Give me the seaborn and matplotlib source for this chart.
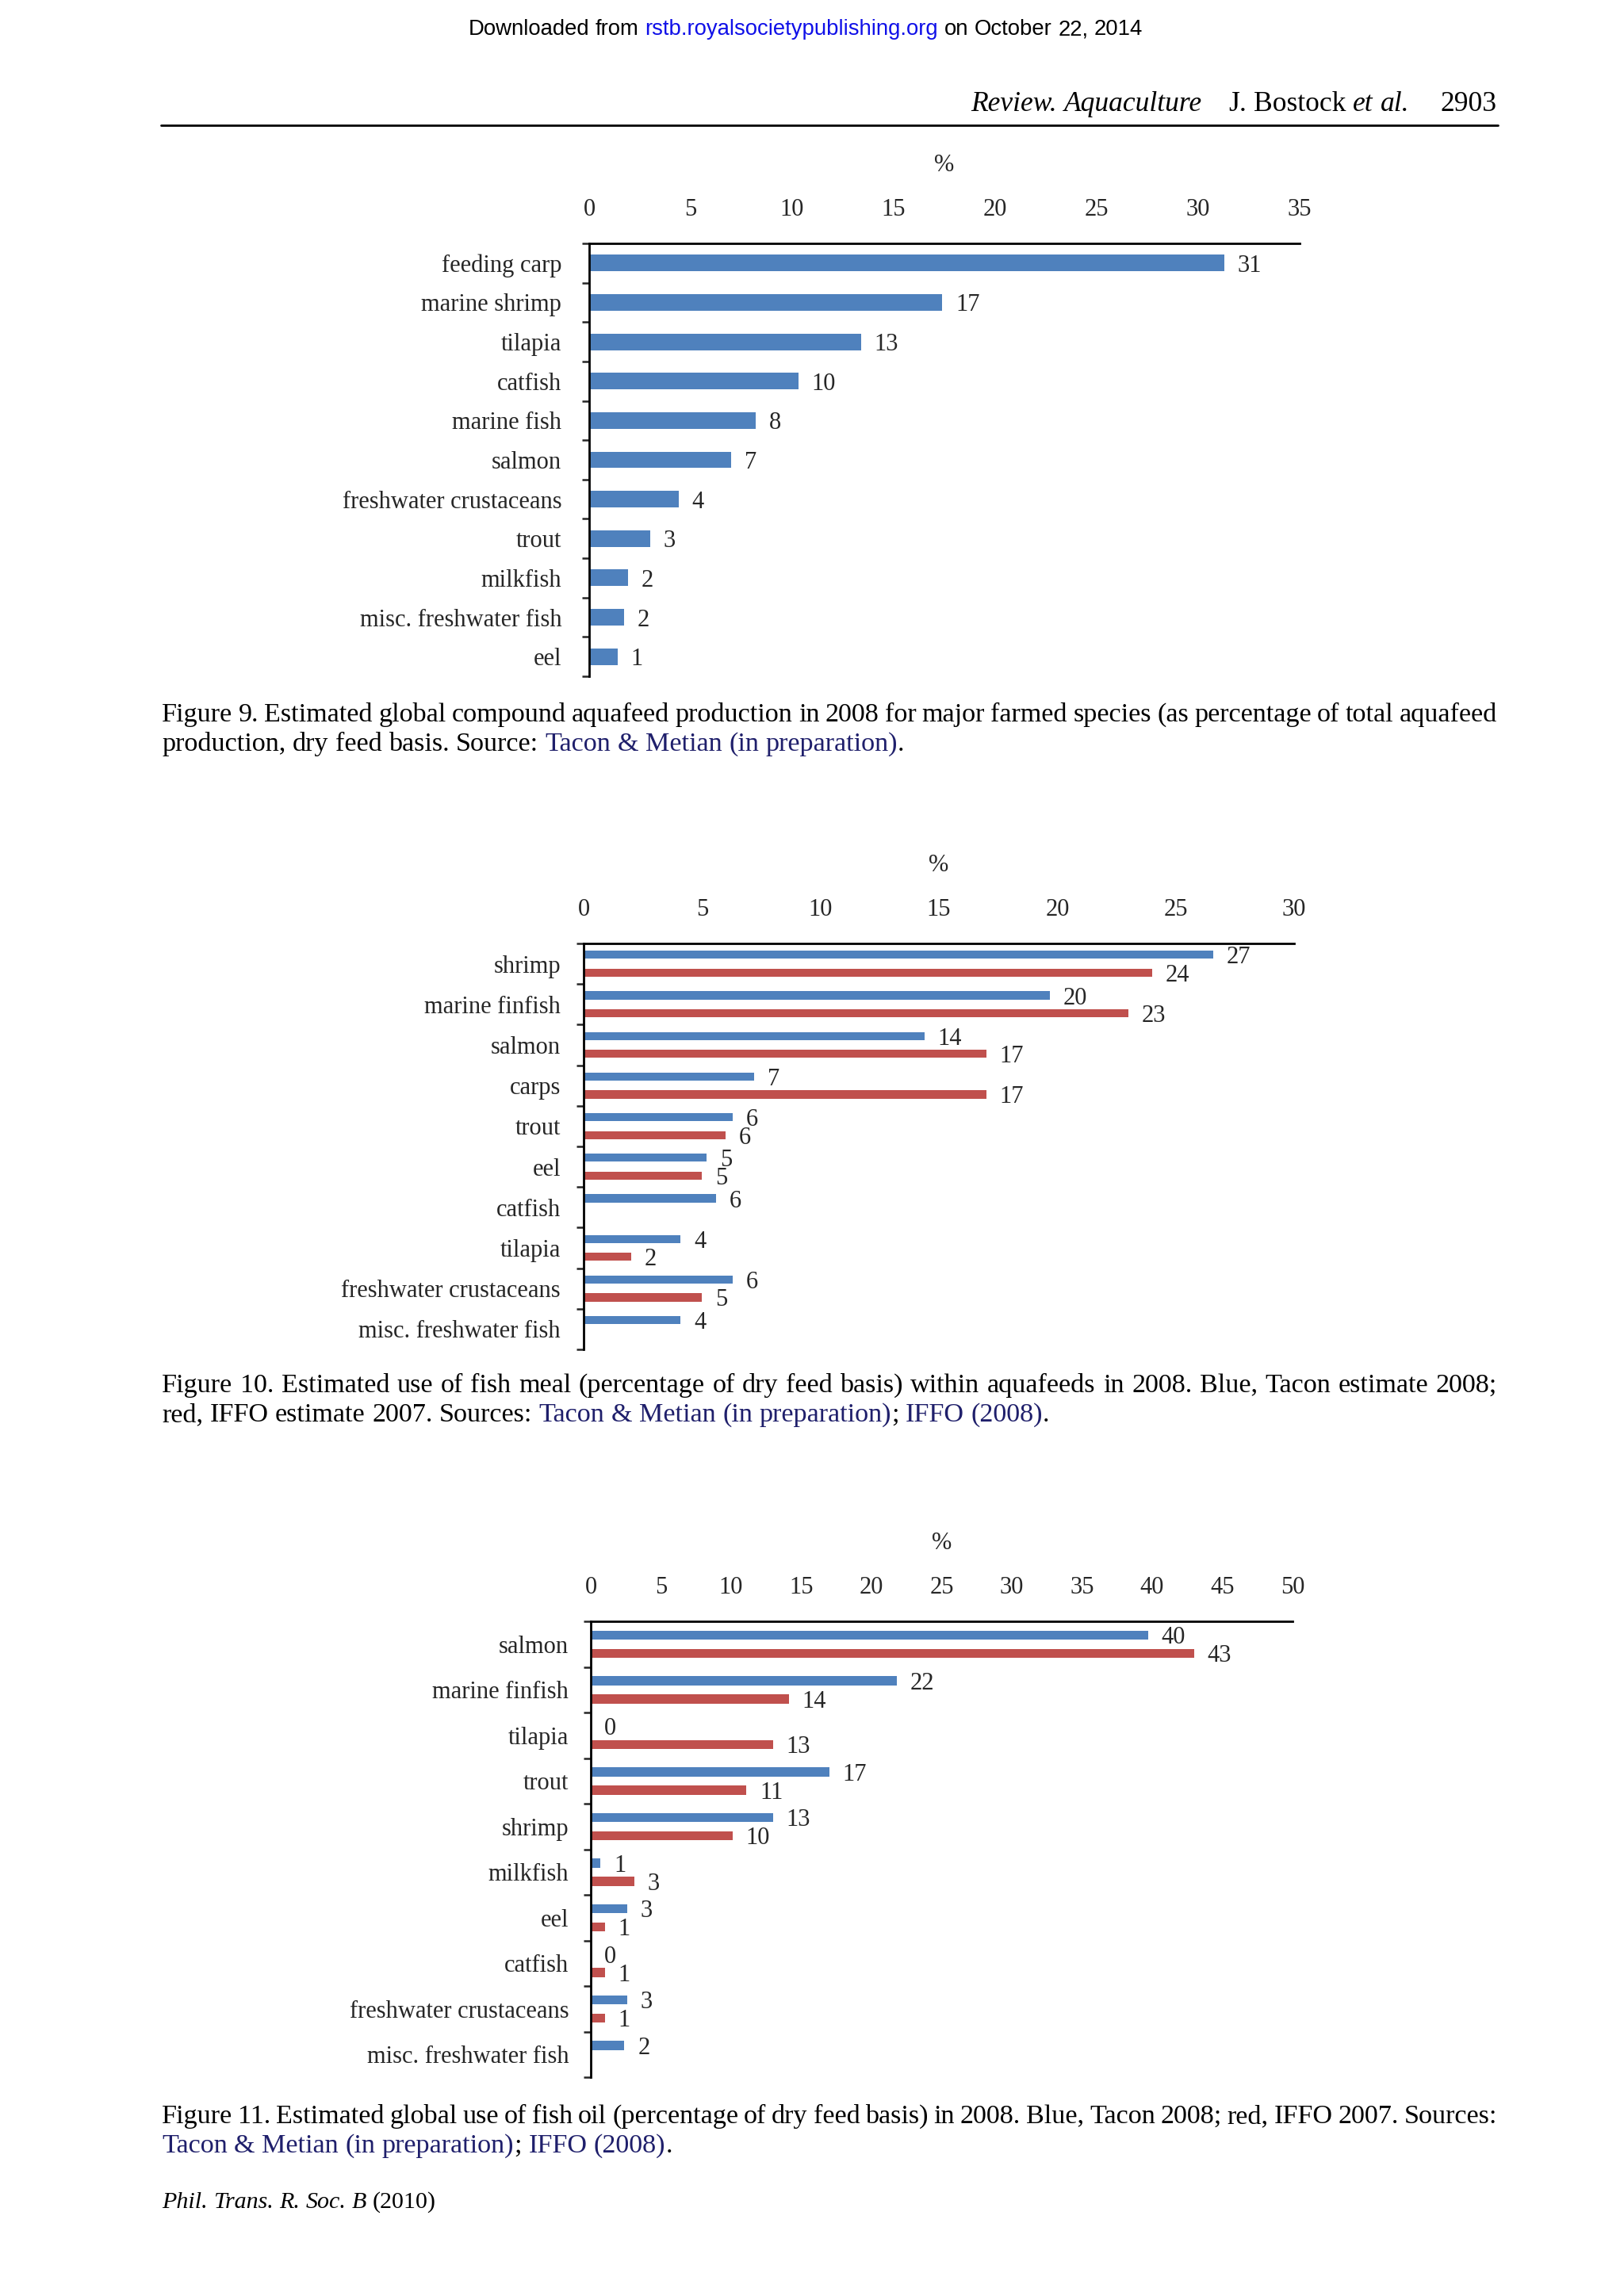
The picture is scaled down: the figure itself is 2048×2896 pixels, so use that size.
import numpy as np
import pandas as pd
import matplotlib
matplotlib.use("Agg")
import matplotlib.pyplot as plt
import seaborn as sns

# --- data (percent) ---
species_feed = ['feeding carp', 'marine shrimp', 'tilapia', 'catfish', 'marine fish', 'salmon',
                'freshwater crustaceans', 'trout', 'milkfish', 'misc. freshwater fish', 'eel']
feed_share = [31.3, 17.4, 13.4, 10.3, 8.2, 7.0, 4.4, 3.0, 1.9, 1.7, 1.4]

species_meal = ['shrimp', 'marine finfish', 'salmon', 'carps', 'trout', 'eel', 'catfish',
                'tilapia', 'freshwater crustaceans', 'misc. freshwater fish']
meal_tacon = [26.6, 19.7, 14.4, 7.2, 6.3, 5.2, 5.6, 4.1, 6.3, 4.1]
meal_iffo = [24.0, 23.0, 17.0, 17.0, 6.0, 5.0, np.nan, 2.0, 5.0, np.nan]

species_oil = ['salmon', 'marine finfish', 'tilapia', 'trout', 'shrimp', 'milkfish', 'eel',
               'catfish', 'freshwater crustaceans', 'misc. freshwater fish']
oil_tacon = [39.7, 21.8, 0.0, 17.0, 13.0, 0.7, 2.6, 0.0, 2.6, 2.4]
oil_iffo = [43.0, 14.1, 13.0, 11.1, 10.1, 3.1, 1.0, 1.0, 1.0, np.nan]

sources = ['Tacon 2008', 'IFFO 2007']

BLUE = '#4F81BD'
RED = '#C0504D'
NAVY = '#1f1f6b'
LINK = '#1010e8'

sns.set_style('white')
plt.rcParams['font.family'] = ['Liberation Serif', 'DejaVu Serif']

W, H, DPI = 2048, 2896, 200
fig = plt.figure(figsize=(W / DPI, H / DPI), dpi=DPI)
fig.patch.set_facecolor('white')


def px_axes(left, top, right, bottom):
    return fig.add_axes([left / W, 1 - bottom / H, (right - left) / W, (bottom - top) / H])


def long_frame(species, tacon, iffo):
    df = pd.DataFrame({'species': species * 2,
                       'source': [sources[0]] * len(species) + [sources[1]] * len(species),
                       'pct': list(tacon) + list(iffo)})
    return df.dropna()


def style_axes(ax, n, xmax, ypad):
    ax.set_xlim(0, xmax)
    ax.set_ylim(n - 0.5, -0.5)
    ax.set_xticks(np.arange(0, xmax + 1, 5))
    ax.xaxis.set_label_position('top')
    ax.set_xlabel('%', labelpad=12, fontsize=11)
    ax.set_ylabel('')
    ax.set_yticks(np.arange(-0.5, n), minor=True)
    ax.tick_params(axis='x', which='major', top=True, labeltop=True, bottom=False,
                   labelbottom=False, direction='out', length=3.2, width=0.9, pad=7, labelsize=11)
    ax.tick_params(axis='y', which='major', left=False, length=0, pad=ypad, labelsize=11)
    ax.tick_params(axis='y', which='minor', left=True, direction='out', length=3.2, width=0.9)
    sns.despine(ax=ax, top=False, right=True, left=False, bottom=True)
    for s in ('top', 'left'):
        ax.spines[s].set_linewidth(1.0)
        ax.spines[s].set_color('black')
    ax.set_facecolor('none')
    for c in ax.containers:
        for t in ax.bar_label(c, fmt='%.0f', padding=6, fontsize=11):
            t.set_va('center_baseline')


# Figure 9
ax9 = px_axes(743, 307, 1639, 853)
feed_df = pd.DataFrame({'species': species_feed, 'pct': feed_share})
sns.barplot(data=feed_df, x='pct', y='species', color=BLUE, saturation=1, width=0.42,
            errorbar=None, linewidth=0, ax=ax9)
style_axes(ax9, len(species_feed), 35, 12.5)

# Figure 10
ax10 = px_axes(736, 1190, 1632, 1702)
sns.barplot(data=long_frame(species_meal, meal_tacon, meal_iffo), x='pct', y='species',
            hue='source', hue_order=sources, order=species_meal, palette=[BLUE, RED],
            saturation=1, width=0.88, gap=0.55, errorbar=None, linewidth=0, legend=False, ax=ax10)
style_axes(ax10, len(species_meal), 30, 10.4)

# Figure 11
ax11 = px_axes(745, 2045, 1630, 2620)
sns.barplot(data=long_frame(species_oil, oil_tacon, oil_iffo), x='pct', y='species',
            hue='source', hue_order=sources, order=species_oil, palette=[BLUE, RED],
            saturation=1, width=0.8, gap=0.5, errorbar=None, linewidth=0, legend=False, ax=ax11)
style_axes(ax11, len(species_oil), 50, 10)

# --- page text ---
renderer = fig.canvas.get_renderer()


def put_runs(segments, x, y, align='left', right=None):
    """Place mixed-style text word by word; returns the left x in pixels."""
    words, new_word = [], True
    for text, props in segments:
        for i, part in enumerate(text.split(' ')):
            if i > 0:
                new_word = True
            if part:
                if new_word or not words:
                    words.append([])
                words[-1].append((part, props))
                new_word = False
    props0 = segments[0][1]
    a = fig.text(0, 0, 'x x', **props0)
    b = fig.text(0, 0, 'xx', **props0)
    space = a.get_window_extent(renderer).width - b.get_window_extent(renderer).width
    a.remove()
    b.remove()

    placed = []
    for word in words:
        pieces = []
        for part, props in word:
            t = fig.text(0, 1 - y / H, part, va='baseline', ha='left', **props)
            pieces.append((t, t.get_window_extent(renderer).width))
        placed.append(pieces)
    widths = [sum(w for _, w in p) for p in placed]
    if right is not None and len(placed) > 1:
        gap = (right - x - sum(widths)) / (len(placed) - 1)
    else:
        gap = space
    total = sum(widths) + gap * (len(placed) - 1)
    start = x
    if align == 'center':
        start = x - total / 2
    elif align == 'right':
        start = x - total
    cx = start
    for pieces in placed:
        for t, w in pieces:
            t.set_x(cx / W)
            cx += w
        cx += gap
    return start


sans = dict(family=['Liberation Sans', 'DejaVu Sans'], fontsize=9.9, color='black')
put_runs([('Downloaded from ', sans), ('rstb.royalsocietypublishing.org', dict(sans, color=LINK)),
          (' on October 22, 2014', sans)], 1016, 44, align='center')

rm = dict(fontsize=12.8, color='black')
it = dict(rm, style='italic')
x = put_runs([('2903', rm)], 1888, 140, align='right')
x = put_runs([('J. Bostock ', rm), ('et al.', it)], x - 40, 140, align='right')
put_runs([('Review. Aquaculture', it)], x - 33, 140, align='right')
fig.add_artist(plt.Line2D([203 / W, 1889 / W], [1 - 158 / H, 1 - 158 / H], color='black', lw=1.0))

cap = dict(fontsize=12.3, color='black')
lnk = dict(cap, color=NAVY)
L, R = 204, 1888

put_runs([('Figure 9. Estimated global compound aquafeed production in 2008 for major farmed '
           'species (as percentage of total aquafeed', cap)], L, 910, right=R)
put_runs([('production, dry feed basis. Source: ', cap), ('Tacon & Metian (in preparation)', lnk),
          ('.', cap)], L, 947)

put_runs([('Figure 10. Estimated use of fish meal (percentage of dry feed basis) within aquafeeds '
           'in 2008. Blue, Tacon estimate 2008;', cap)], L, 1756, right=R)
put_runs([('red, IFFO estimate 2007. Sources: ', cap), ('Tacon & Metian (in preparation)', lnk),
          ('; ', cap), ('IFFO (2008)', lnk), ('.', cap)], L, 1793)

put_runs([('Figure 11. Estimated global use of fish oil (percentage of dry feed basis) in 2008. '
           'Blue, Tacon 2008; red, IFFO 2007. Sources:', cap)], L, 2678, right=R)
put_runs([('Tacon & Metian (in preparation)', lnk), ('; ', cap), ('IFFO (2008)', lnk),
          ('.', cap)], L, 2715)

foot = dict(fontsize=10.8, color='black')
put_runs([('Phil. Trans. R. Soc. B ', dict(foot, style='italic')), ('(2010)', foot)], L, 2785)

fig.savefig('out.png', dpi=DPI, facecolor='white')
